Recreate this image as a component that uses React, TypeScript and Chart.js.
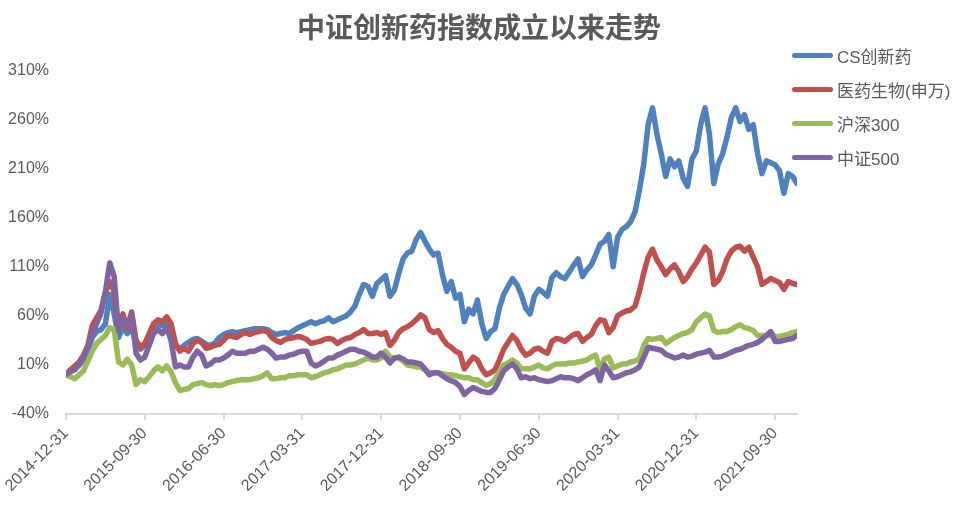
import React, { useEffect, useRef } from 'react';
import { Chart, registerables } from 'chart.js';

Chart.register(...registerables);

const TITLE = '中证创新药指数成立以来走势';
const seriesNames = ['CS创新药', '医药生物(申万)', '沪深300', '中证500'];
const seriesColors = ['#4F81BD', '#C0504D', '#9BBB59', '#8064A2'];

// x axis: months since 2014-12-31, one sample every half month
const SAMPLE_STEP_MONTHS = 0.5;
const tickMonths = [0, 9, 18, 27, 36, 45, 54, 63, 72, 81];
const tickLabels = [
  '2014-12-31', '2015-09-30', '2016-06-30', '2017-03-31', '2017-12-31',
  '2018-09-30', '2019-06-30', '2020-03-31', '2020-12-31', '2021-09-30',
];
const X_MAX_MONTHS = 83.5;

// y axis (cumulative return, %)
const Y_MIN = -40;
const Y_MAX = 310;
const Y_STEP = 50;

// cumulative return (%) — CS创新药
const csInnovative = [
  0, 3, 7, 10, 15, 24, 38, 44, 46, 52,
  82, 62, 38, 48, 42, 50, 30, 26, 30, 40,
  48, 52, 50, 55, 48, 30, 26, 30, 33, 36,
  37, 34, 31, 30, 32, 38, 41, 43, 44, 43,
  44, 45, 46, 47, 47, 47, 46, 43, 41, 42,
  43, 42, 45, 48, 50, 52, 54, 52, 54, 55,
  58, 54, 56, 58, 60, 64, 70, 82, 92, 90,
  80, 93, 97, 101, 80, 86, 103, 118, 124, 126,
  138, 145, 136, 128, 122, 124, 102, 85, 95, 78,
  82, 54, 67, 62, 76, 52, 37, 44, 47, 68,
  82, 90, 98, 92, 82, 68, 62, 80, 87, 84,
  80, 99, 104, 100, 98, 105, 112, 118, 100, 107,
  112, 122, 133, 136, 143, 110, 140, 148, 151, 156,
  166, 188, 215, 255, 272, 245, 225, 202, 220, 212,
  218, 200, 192, 220, 228, 255, 272, 245, 195, 215,
  225, 242, 262, 272, 258, 265, 250, 255, 225, 205,
  218, 216, 214, 208, 185, 205, 202, 195,
];

// 医药生物(申万)
const swPharma = [
  0, 5, 9, 13, 20, 30, 50, 58, 66, 84,
  95, 85, 45, 62, 47, 64, 35, 28, 32, 42,
  52, 56, 54, 59, 52, 32, 24, 27, 24, 32,
  35, 33, 27, 28, 30, 31, 35, 40, 39, 38,
  41, 43, 41, 43, 44, 45, 44, 38, 35, 33,
  36, 37, 38, 39, 38, 36, 32, 33, 34, 36,
  37, 36, 32, 35, 37, 38, 41, 43, 46, 42,
  42, 43, 41, 43, 30, 35, 43, 47, 49, 52,
  56, 61, 58, 46, 43, 45, 37, 31, 28, 24,
  22, 6, 12, 18, 15, 6, 0, 2, 5, 15,
  26, 33, 40, 35, 26, 20, 22, 26, 27, 24,
  22, 34, 37, 36, 34, 38, 41, 42, 34, 38,
  41, 50, 56, 55, 43, 48, 60, 63, 65, 66,
  70, 85, 104, 120, 128, 117, 110, 102, 108, 112,
  105, 95, 100, 108, 114, 122, 130, 125, 92, 96,
  105, 118, 126, 130, 131, 126, 130, 120, 110, 92,
  95, 98, 96, 94, 87, 95, 93, 92,
];

// 沪深300
const hs300 = [
  0, -2, -4, 0, 4, 14, 24, 32, 36, 40,
  48, 46, 13, 10, 16, 10, -10, -5, -7, -2,
  4, 8, 4, 9, 3, -8, -16, -15, -14, -10,
  -9, -8, -10, -11, -10, -11, -10, -8, -7, -6,
  -5, -5, -5, -4, -3, -1, 2, -4, -4, -3,
  -3, -1, -1, 0, 0, 0, -3, -2, 0, 2,
  3, 5, 6, 8, 10, 10, 11, 13, 15, 17,
  15, 15, 17, 24, 18, 17, 17, 14, 10, 9,
  8, 8, 5, 2, 2, 2, 1, 0, 0, -1,
  -2, -3, -3, -5, -5, -8, -11, -9, -5, 3,
  10, 12, 15, 12, 6, 6, 6, 8, 10, 7,
  6, 9, 11, 11, 11, 12, 12, 13, 14, 15,
  18, 20, 6, 16, 18, 7, 9, 11, 11, 13,
  14, 16, 30, 37, 36, 37, 38, 32, 35, 38,
  40, 42, 43, 46, 54, 58, 62, 60, 45, 43,
  44, 44, 46, 49, 51, 48, 47, 45, 40, 40,
  40, 40, 39, 39, 40, 41, 43, 44,
];

// 中证500
const csi500 = [
  0, 3, 5, 10, 18, 28, 43, 52, 63, 85,
  114, 100, 45, 58, 50, 62, 22, 15, 18, 30,
  42, 46, 42, 48, 35, 8, 10, 8, 8, 18,
  24, 20, 9, 11, 15, 15, 17, 20, 24, 22,
  22, 22, 24, 24, 26, 28, 26, 22, 17, 18,
  18, 20, 21, 23, 24, 24, 12, 9, 11, 14,
  17, 17, 20, 22, 24, 26, 26, 24, 23, 21,
  18, 18, 22, 18, 12, 17, 18, 16, 13, 13,
  12, 11, 6, 0, 2, 2, -1, -4, -6, -8,
  -12, -20, -16, -13, -15, -17, -18, -18, -14, -5,
  4, 8, 11, 6, -3, -2, -4, -3, -5, -6,
  -7, -6, -4, -2, -3, -3, -4, -6, -3, 0,
  2, 5, -6, 10, 4, -3, -2, 0, 2, 3,
  5, 8, 18, 28, 27, 26, 25, 21, 19, 17,
  18, 20, 18, 19, 21, 22, 23, 25, 18, 18,
  19, 21, 23, 25, 26, 28, 30, 31, 33, 36,
  40, 44, 34, 34, 35, 36, 37, 40,
];

const seriesValues = [csInnovative, swPharma, hs300, csi500];

const TEXT_COLOR = '#595959';
const AXIS_COLOR = '#D9D9D9';
const LATIN_FONT = '"Liberation Sans", "Noto Sans CJK SC", sans-serif';

export default function App() {
  const canvasRef = useRef<HTMLCanvasElement | null>(null);

  useEffect(() => {
    document.body.style.margin = '0';
    const canvas = canvasRef.current;
    if (!canvas) return;

    const datasets = seriesValues.map((vals, si) => ({
      label: seriesNames[si],
      data: vals.map((v, i) => ({ x: i * SAMPLE_STEP_MONTHS, y: v })),
      borderColor: seriesColors[si],
      backgroundColor: seriesColors[si],
      borderWidth: 5.5,
      pointRadius: 0,
      pointHoverRadius: 0,
      tension: 0,
      fill: false,
      borderJoinStyle: 'round' as const,
      borderCapStyle: 'round' as const,
      yAxisID: 'y',
      // later series drawn on top (like the original)
      order: seriesValues.length - 1 - si,
    }));

    const chart = new Chart(canvas, {
      type: 'line',
      data: { datasets },
      options: {
        responsive: false,
        animation: false,
        layout: { padding: 0 },
        plugins: {
          legend: { display: false },
          tooltip: { enabled: false },
          title: {
            display: true,
            text: TITLE,
            color: TEXT_COLOR,
            font: { family: '"Noto Sans CJK SC", sans-serif', size: 28, weight: 'bold' },
            padding: { top: 11, bottom: 26 },
          },
        },
        scales: {
          x: {
            type: 'linear',
            min: 0,
            max: X_MAX_MONTHS,
            bounds: 'data',
            afterBuildTicks: (scale: any) => {
              scale.ticks = tickMonths.map((v) => ({ value: v }));
            },
            afterFit: (scale: any) => {
              scale.height = 93;
            },
            ticks: {
              autoSkip: false,
              minRotation: 45,
              maxRotation: 45,
              padding: 4,
              color: TEXT_COLOR,
              font: { family: LATIN_FONT, size: 16 },
              callback: (value: any) => {
                const idx = tickMonths.indexOf(Number(value));
                return idx >= 0 ? tickLabels[idx] : '';
              },
            },
            grid: {
              display: true,
              drawOnChartArea: false,
              drawTicks: true,
              tickLength: 6,
              color: AXIS_COLOR,
              lineWidth: 2,
            },
            border: { display: true, color: AXIS_COLOR, width: 2 },
          },
          y: {
            type: 'linear',
            position: 'left',
            min: Y_MIN,
            max: Y_MAX,
            afterFit: (scale: any) => {
              scale.width = 66;
            },
            ticks: {
              stepSize: Y_STEP,
              padding: 17,
              color: TEXT_COLOR,
              font: { family: LATIN_FONT, size: 16 },
              callback: (value: any) => `${value}%`,
            },
            grid: { display: false, drawTicks: false },
            border: { display: false },
          },
          // empty right-hand box that reserves room for the legend
          legendSpace: {
            type: 'linear',
            position: 'right',
            display: true,
            afterFit: (scale: any) => {
              scale.width = 161;
            },
            ticks: { display: false },
            grid: { display: false, drawTicks: false },
            border: { display: false },
          },
        },
      },
    });

    return () => chart.destroy();
  }, []);

  return (
    <div style={{ position: 'relative', width: 958, height: 507, background: '#fff' }}>
      <canvas ref={canvasRef} width={958} height={507} style={{ display: 'block' }} />
      {seriesNames.map((name, i) => (
        <div
          key={name}
          style={{
            position: 'absolute',
            left: 792,
            top: 55 + i * 34 - 12,
            height: 24,
            display: 'flex',
            alignItems: 'center',
            fontFamily: LATIN_FONT,
            fontSize: 17,
            color: TEXT_COLOR,
            whiteSpace: 'nowrap',
          }}
        >
          <span
            style={{
              display: 'inline-block',
              width: 41,
              height: 5,
              borderRadius: 3,
              background: seriesColors[i],
              marginRight: 4,
            }}
          />
          <span>{name}</span>
        </div>
      ))}
    </div>
  );
}
